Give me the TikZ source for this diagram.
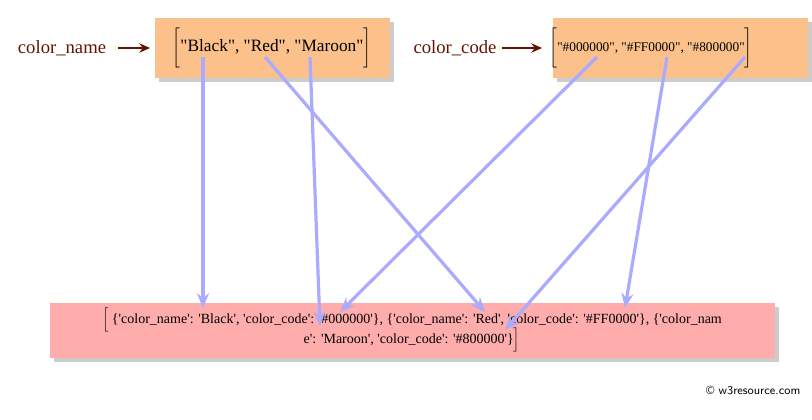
\documentclass[tikz,border=0pt]{standalone}
\usepackage{fontspec}
\setmainfont{Liberation Serif}
\usetikzlibrary{arrows.meta,shadows}
\newcommand{\dq}{\textquotedbl}
\newcommand{\sq}{\textquotesingle}

\begin{document}
\begin{tikzpicture}[x=0.75pt,y=-0.75pt,
    list box/.style={draw=none,drop shadow={shadow xshift=3pt,shadow yshift=-3pt,opacity=0.4},inner sep=0pt},
    link/.style={draw={rgb,255:red,170;green,170;blue,255},line width=2.4pt,-{Stealth[length=11pt,width=9pt]}},
    label arrow/.style={draw={rgb,255:red,100;green,20;blue,0},line width=1.3pt,-{Stealth[length=8pt,width=7pt]}}]

    \useasboundingbox (0,0) rectangle (812,420);

    \fill[fill={rgb,255:red,252;green,192;blue,138},list box] (155,18) rectangle (390,78);
    \fill[fill={rgb,255:red,252;green,192;blue,138},list box] (553,18) rectangle (808,78);
    \fill[fill={rgb,255:red,255;green,172;blue,172},list box] (50,303) rectangle (775,358);

    \node[text={rgb,255:red,100;green,20;blue,0},font=\fontsize{14}{16}\selectfont] (cname) at (62,48) {color\_name};
    \node[text={rgb,255:red,100;green,20;blue,0},font=\fontsize{14}{16}\selectfont] (ccode) at (455,48) {color\_code};
    \node[font=\fontsize{13}{15}\selectfont] (names) at (272,48) {$\Bigg[$\dq Black\dq, \dq Red\dq, \dq Maroon\dq$\Bigg]$};
    \node[font=\fontsize{10}{12}\selectfont] (codes) at (651,48) {$\Bigg[$\dq\#000000\dq, \dq\#FF0000\dq, \dq\#800000\dq$\Bigg]$};
    \node[font=\fontsize{10.5}{12.5}\selectfont,align=center] (result) at (412,330)
        {$\Big[$ \{\sq color\_name\sq: \sq Black\sq, \sq color\_code\sq: \sq\#000000\sq\}, \{\sq color\_name\sq: \sq Red\sq, \sq color\_code\sq: \sq\#FF0000\sq\}, \{\sq color\_nam\\[-4pt]
         e\sq: \sq Maroon\sq, \sq color\_code\sq: \sq\#800000\sq\}$\Big]$};

    \coordinate (lbl1) at (118,48);  \coordinate (lbl2) at (150,48);
    \coordinate (lbl3) at (502,48);  \coordinate (lbl4) at (542,48);
    \path[label arrow] (lbl1) -- (lbl2);
    \path[label arrow] (lbl3) -- (lbl4);

    % start points in the lists
    \coordinate (black) at (203,57);
    \coordinate (red) at (265,57);
    \coordinate (maroon) at (310,57);
    \coordinate (c0) at (597,57);
    \coordinate (c1) at (667,57);
    \coordinate (c2) at (745,57);
    % end points in the result
    \coordinate (black end) at (203,308);
    \coordinate (red end) at (485,312);
    \coordinate (maroon end) at (320,326);
    \coordinate (c0 end) at (340,312);
    \coordinate (c1 end) at (625,308);
    \coordinate (c2 end) at (505,330);

    \path[link] (black) -- (black end);
    \path[link] (red) -- (red end);
    \path[link] (maroon) -- (maroon end);
    \path[link] (c0) -- (c0 end);
    \path[link] (c1) -- (c1 end);
    \path[link] (c2) -- (c2 end);

    \node[font=\sffamily\fontsize{9}{11}\selectfont,anchor=east] (credit) at (805,390) {\textcopyright\ w3resource.com};
\end{tikzpicture}
\end{document}
